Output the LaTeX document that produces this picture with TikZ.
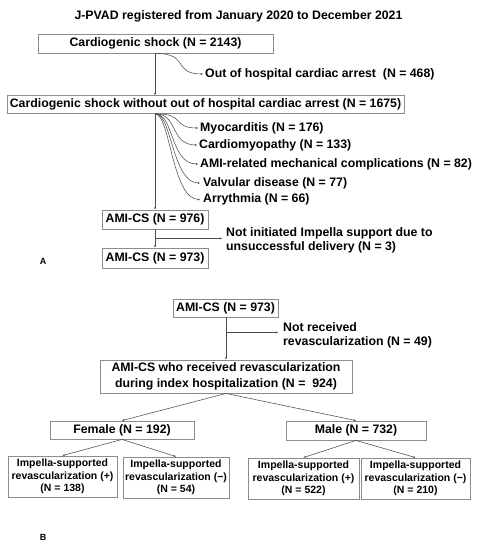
\documentclass[tikz,border=0pt]{standalone}
\usepackage{fontspec}
\setmainfont{Liberation Sans}
\usetikzlibrary{arrows.meta}
\begin{document}
\begin{tikzpicture}[x=1pt,y=-1pt,
  every node/.style={font=\fontsize{12.3}{14}\selectfont\bfseries, inner sep=0pt, text=black},
  box/.style={draw=black!45, line width=0.9pt, align=center},
  small/.style={font=\fontsize{10.5}{12.5}\selectfont\bfseries},
  lbl/.style={anchor=west, align=left},
  conn/.style={draw=black!70, line width=0.55pt, -{Stealth[length=2.4pt,width=2pt]}}
]
\useasboundingbox (0,0) rectangle (477,550);
\node (title) at (238.5,16) {J-PVAD registered from January 2020 to December 2021};
% Part A
\node[box, minimum width=235pt, minimum height=19pt] (cs) at (155.5,43.5) {Cardiogenic shock (N = 2143)};
\node[lbl] (ohca) at (205,74) {Out of hospital cardiac arrest\ \ (N = 468)};
\node[box, minimum width=397pt, minimum height=18pt] (csw) at (205.5,104.5) {Cardiogenic shock without out of hospital cardiac arrest (N = 1675)};
\node[lbl] (myo) at (200,128) {Myocarditis (N = 176)};
\node[lbl] (cmp) at (199,145) {Cardiomyopathy (N = 133)};
\node[lbl] (mech) at (200,164) {AMI-related mechanical complications (N = 82)};
\node[lbl] (valv) at (203,183) {Valvular disease (N = 77)};
\node[lbl] (arr) at (203,199.5) {Arrythmia (N = 66)};
\node[box, minimum width=106pt, minimum height=19pt] (a976) at (155,219.5) {AMI-CS (N = 976)};
\node[lbl] (notinit) at (226,240) {Not initiated Impella support due to\\unsuccessful delivery (N = 3)};
\node[box, minimum width=106pt, minimum height=20pt] (a973) at (155,258) {AMI-CS (N = 973)};
\node[font=\fontsize{9}{10}\selectfont\bfseries] (A) at (43,261) {A};

\draw[conn] (a976.north |- cs.south) -- (a976.north |- csw.north);
\draw[conn] (a976.north |- cs.south) .. controls (190,53) and (172,74) .. ([xshift=-2pt]ohca.west);
\draw[conn] (a976.north |- csw.south) -- (a976.north);
\draw[conn] (a976.north |- csw.south) .. controls (185,113) and (172,128) .. ([xshift=-2pt]myo.west);
\draw[conn] (a976.north |- csw.south) .. controls (178,113) and (170,145) .. ([xshift=-2pt]cmp.west);
\draw[conn] (a976.north |- csw.south) .. controls (174,113) and (170,164) .. ([xshift=-2pt]mech.west);
\draw[conn] (a976.north |- csw.south) .. controls (172,113) and (172,183) .. ([xshift=-3pt]valv.west);
\draw[conn] (a976.north |- csw.south) .. controls (170,113) and (172,199.5) .. ([xshift=-3pt]arr.west);
\draw[conn] (a976.south) -- (a973.north);
\coordinate (b1) at ([yshift=-9pt]a976.south);
\draw[conn] (b1) -- ([xshift=-4pt]b1 -| notinit.west);
% Part B
\node[box, minimum width=105pt, minimum height=18pt] (b973) at (225.5,308) {AMI-CS (N = 973)};
\node[lbl] (notrec) at (283,335.5) {Not received\\revascularization (N = 49)};
\node[box, minimum width=252pt, minimum height=33pt, font=\fontsize{12.3}{16}\selectfont\bfseries] (rev) at (226,376.5) {AMI-CS who received revascularization\\during index hospitalization (N =\ \ 924)};
\node[box, minimum width=144pt, minimum height=18pt] (fem) at (122,430) {Female (N = 192)};
\node[box, minimum width=140pt, minimum height=19pt] (mal) at (356,430.5) {Male (N = 732)};
\node[box, small, minimum width=109pt, minimum height=41pt] (fp) at (62.5,476.5) {Impella-supported\\revascularization (+)\\(N = 138)};
\node[box, small, minimum width=106pt, minimum height=41pt] (fm) at (176,477.5) {Impella-supported\\revascularization (−)\\(N = 54)};
\node[box, small, minimum width=111pt, minimum height=41pt] (mp) at (303.5,478.5) {Impella-supported\\revascularization (+)\\(N = 522)};
\node[box, small, minimum width=109pt, minimum height=41pt] (mm) at (415.5,478.5) {Impella-supported\\revascularization (−)\\(N = 210)};
\node[font=\fontsize{9}{10}\selectfont\bfseries] (B) at (43,537) {B};

\draw[conn] (b973.south -| rev.north) -- (rev.north);
\coordinate (b2) at ([yshift=-15pt]b973.south -| rev.north);
\draw[conn] (b2) -- ([xshift=-5pt]b2 -| notrec.west);
\draw[conn] (rev.south) -- (fem.north);
\draw[conn] (rev.south) -- (mal.north);
\draw[conn] (fem.south) -- (fp.north);
\draw[conn] (fem.south) -- (fm.north);
\draw[conn] (mal.south) -- (mp.north);
\draw[conn] (mal.south) -- (mm.north);
\end{tikzpicture}
\end{document}
